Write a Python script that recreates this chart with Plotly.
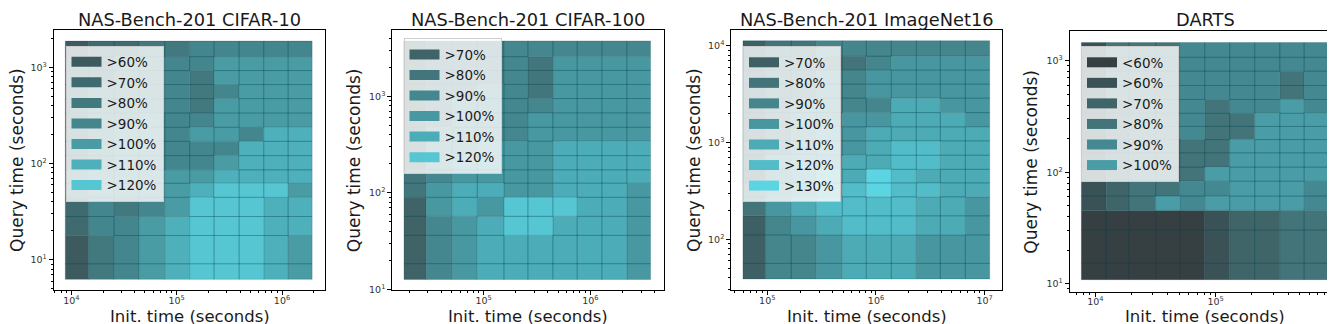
import math
import plotly.graph_objects as go

# ---------------- data ----------------
titles = ["NAS-Bench-201 CIFAR-10", "NAS-Bench-201 CIFAR-100",
          "NAS-Bench-201 ImageNet16", "DARTS"]
x_title = "Init. time (seconds)"
y_title = "Query time (seconds)"

# Panel 1: NAS-Bench-201 CIFAR-10
c10_init_edges = [8770, 14620, 25470, 43990, 77100, 133000, 226500, 391500, 671000, 1143000, 1932000]
c10_query_edges = [1871, 1288, 925, 662, 473, 335, 238, 170, 121, 86.1, 62.4, 44.6, 28.2, 17.9, 9.1, 6.27]
c10_ticks = [1e4, 1e5, 1e6]
c10_yticks = [1e1, 1e2, 1e3]
c10_labels = [">60%", ">70%", ">80%", ">90%", ">100%", ">110%", ">120%"]
c10_colors = ["#3d5a5e", "#3f6a70", "#42797f", "#44868d", "#4a9ca4", "#4eb0ba", "#56c6d2"]
c10_levels = [
    [0, 1, 1, 2, 2, 3, 3, 3, 3, 3],
    [1, 1, 2, 2, 3, 3, 4, 4, 4, 4],
    [1, 1, 2, 2, 3, 2, 4, 4, 4, 4],
    [1, 2, 2, 2, 3, 2, 3, 4, 4, 4],
    [1, 2, 2, 2, 3, 2, 4, 4, 4, 4],
    [1, 2, 2, 3, 3, 3, 4, 4, 4, 4],
    [1, 2, 3, 3, 3, 4, 4, 3, 5, 5],
    [1, 2, 3, 3, 3, 3, 3, 5, 5, 5],
    [1, 2, 3, 3, 3, 3, 4, 5, 5, 5],
    [2, 3, 3, 3, 4, 4, 5, 5, 5, 5],
    [2, 3, 3, 3, 4, 5, 6, 6, 6, 4],
    [1, 3, 2, 3, 4, 6, 6, 6, 5, 5],
    [1, 3, 3, 4, 5, 6, 6, 6, 5, 5],
    [0, 2, 3, 4, 5, 6, 6, 6, 5, 4],
    [0, 2, 3, 4, 5, 6, 6, 6, 5, 4],
]

# Panel 2: NAS-Bench-201 CIFAR-100
c100_init_edges = [17900, 28970, 50780, 87070, 154900, 260000, 445800, 753000, 1285000, 2204000, 3673000]
c100_query_edges = [3733, 2570, 1849, 1324, 947, 672, 477, 342, 243, 173, 126, 89.9, 57.1, 36.3, 18.5, 12.7]
c100_ticks = [1e5, 1e6]
c100_yticks = [1e1, 1e2, 1e3]
c100_labels = [">70%", ">80%", ">90%", ">100%", ">110%", ">120%"]
c100_colors = ["#3f6367", "#42767c", "#45878f", "#4898a1", "#4cadb8", "#56c6d2"]
c100_levels = [
    [0, 1, 1, 1, 2, 2, 2, 2, 2, 2],
    [0, 1, 1, 1, 2, 1, 3, 3, 3, 3],
    [0, 1, 1, 1, 2, 1, 3, 3, 3, 3],
    [0, 1, 1, 2, 2, 1, 3, 3, 3, 3],
    [0, 1, 2, 2, 2, 2, 3, 3, 3, 3],
    [0, 1, 2, 2, 2, 3, 3, 3, 3, 3],
    [0, 2, 2, 2, 2, 3, 3, 3, 3, 3],
    [0, 2, 2, 3, 3, 3, 4, 4, 4, 4],
    [0, 2, 3, 3, 3, 3, 4, 4, 4, 4],
    [1, 2, 3, 3, 3, 3, 4, 4, 4, 4],
    [1, 3, 4, 4, 3, 3, 4, 4, 4, 3],
    [0, 3, 4, 3, 5, 5, 5, 4, 4, 3],
    [0, 2, 3, 4, 5, 5, 4, 4, 4, 3],
    [0, 2, 3, 4, 4, 4, 4, 4, 4, 3],
    [0, 2, 3, 4, 4, 4, 4, 4, 4, 3],
]

# Panel 3: NAS-Bench-201 ImageNet16
img_init_edges = [59740, 96670, 166300, 282500, 489800, 814300, 1383000, 2349000, 3908000, 6637000, 11120000]
img_query_edges = [11290, 7798, 5610, 4018, 2877, 2042, 1452, 1041, 740, 529, 383, 275, 175, 111, 56.5, 39.0]
img_ticks = [1e5, 1e6, 1e7]
img_yticks = [1e2, 1e3, 1e4]
img_labels = [">70%", ">80%", ">90%", ">100%", ">110%", ">120%", ">130%"]
img_colors = ["#3e5f63", "#427479", "#44868c", "#4897a0", "#4cabb5", "#52bdc9", "#5cd5e3"]
img_levels = [
    [0, 1, 1, 2, 2, 2, 2, 2, 2, 2],
    [0, 1, 1, 1, 1, 2, 3, 3, 3, 3],
    [0, 1, 1, 2, 2, 3, 3, 3, 3, 3],
    [0, 1, 1, 2, 2, 3, 3, 3, 3, 3],
    [0, 1, 2, 2, 2, 2, 4, 4, 3, 3],
    [0, 1, 2, 2, 3, 3, 4, 4, 4, 3],
    [0, 1, 2, 3, 3, 4, 4, 4, 4, 4],
    [0, 1, 2, 3, 3, 4, 5, 5, 4, 4],
    [0, 2, 3, 3, 4, 4, 5, 5, 4, 4],
    [0, 2, 3, 4, 4, 6, 5, 4, 4, 4],
    [1, 2, 3, 4, 5, 6, 5, 5, 4, 4],
    [1, 3, 4, 5, 5, 5, 5, 4, 4, 3],
    [0, 2, 3, 4, 5, 5, 5, 4, 4, 3],
    [0, 2, 2, 3, 4, 4, 4, 3, 3, 3],
    [0, 2, 2, 3, 4, 4, 4, 3, 3, 3],
]

# Panel 4: DARTS
darts_init_edges = [7650, 12330, 19040, 31760, 50310, 81200, 130900, 211200, 341100, 543200, 859000]
darts_query_edges = [1452, 1070, 804, 598, 448, 337, 257, 196, 149, 111, 83, 61.1, 45.5, 30.3, 15.3, 10.9]
darts_ticks = [1e4, 1e5]
darts_yticks = [1e1, 1e2, 1e3]
darts_labels = ["<60%", ">60%", ">70%", ">80%", ">90%", ">100%"]
darts_colors = ["#363f42", "#3a5256", "#3f6569", "#427479", "#448891", "#4a9ca6"]
darts_levels = [
    [1, 3, 3, 3, 4, 4, 4, 4, 4, 4],
    [1, 3, 3, 3, 4, 4, 4, 4, 4, 4],
    [1, 3, 3, 3, 4, 4, 4, 4, 3, 4],
    [1, 3, 3, 3, 4, 4, 4, 4, 3, 4],
    [1, 2, 3, 3, 4, 3, 4, 4, 5, 4],
    [1, 2, 3, 3, 4, 3, 3, 5, 5, 5],
    [1, 2, 3, 3, 4, 3, 3, 5, 5, 5],
    [1, 2, 3, 3, 3, 3, 5, 5, 5, 5],
    [1, 2, 3, 3, 3, 3, 5, 5, 5, 5],
    [1, 2, 3, 3, 3, 5, 5, 5, 5, 5],
    [1, 2, 3, 3, 4, 4, 5, 5, 5, 4],
    [1, 2, 3, 5, 4, 5, 5, 5, 5, 4],
    [0, 0, 0, 0, 0, 1, 2, 2, 3, 3],
    [0, 0, 0, 0, 0, 1, 2, 2, 3, 3],
    [0, 0, 0, 0, 0, 1, 2, 2, 3, 3],
]

panels = [
    (c10_init_edges, c10_query_edges, c10_levels, c10_labels, c10_colors, c10_ticks, c10_yticks),
    (c100_init_edges, c100_query_edges, c100_levels, c100_labels, c100_colors, c100_ticks, c100_yticks),
    (img_init_edges, img_query_edges, img_levels, img_labels, img_colors, img_ticks, img_yticks),
    (darts_init_edges, darts_query_edges, darts_levels, darts_labels, darts_colors, darts_ticks, darts_yticks),
]

# ---------------- layout geometry ----------------
W, H = 1335, 324
x_domains_px = [(45.7, 317.3), (384.3, 656.0), (723.3, 994.3), (1061.7, 1332.7)]
y_domains_px = [(22.7, 286.0), (22.7, 286.0), (22.7, 286.0), (23.3, 287.3)]
x_ranges = [(3.833, 6.411), (4.143, 6.691), (4.669, 7.162), (3.787, 6.039)]
y_ranges = [(0.682, 3.383), (0.99, 3.681), (1.472, 4.159), (0.929, 3.265)]
legend_pos_px = [(57.5, 38.0), (395.5, 30.5), (735.0, 38.5), (1073.0, 38.5)]
ytitle_x_px = [9.5, 346.7, 686.5, 1023.3]

FONT = "DejaVu Sans"
TXT = "#1a1a1a"
fig = go.Figure()


def cell_paths(xe, ye, levels, lvl):
    xs, ys = [], []
    for r, row in enumerate(levels):
        for c, v in enumerate(row):
            if v == lvl:
                x0, x1 = xe[c], xe[c + 1]
                y0, y1 = ye[r], ye[r + 1]
                xs += [x0, x1, x1, x0, x0, None]
                ys += [y0, y0, y1, y1, y0, None]
    return xs, ys


def sup_label(v):
    return "10<sup>%d</sup>" % int(round(math.log10(v)))


for i, (xe, ye, lv, labels, colors, xt, yt) in enumerate(panels):
    k = "" if i == 0 else str(i + 1)
    for lvl, (lab, col) in enumerate(zip(labels, colors)):
        xs, ys = cell_paths(xe, ye, lv, lvl)
        fig.add_trace(go.Scatter(
            x=xs, y=ys, mode="lines", fill="toself", fillcolor=col,
            line=dict(color="rgba(0,70,80,0.22)", width=1),
            showlegend=False, xaxis="x" + k, yaxis="y" + k, hoverinfo="skip",
        ))
    # legend entries
    for lvl, (lab, col) in enumerate(zip(labels, colors)):
        fig.add_trace(go.Scatter(
            x=[None], y=[None], mode="lines", name=lab,
            line=dict(color=col, width=10),
            legend="legend" + k, xaxis="x" + k, yaxis="y" + k,
        ))

layout = dict(
    width=W, height=H, margin=dict(l=0, r=0, t=0, b=0),
    paper_bgcolor="white", plot_bgcolor="white",
    font=dict(family=FONT, color=TXT),
    showlegend=True,
)

annotations = []
for i in range(4):
    k = "" if i == 0 else str(i + 1)
    xt, yt = panels[i][5], panels[i][6]
    xd = [x_domains_px[i][0] / W, x_domains_px[i][1] / W]
    yd = [1 - y_domains_px[i][1] / H, 1 - y_domains_px[i][0] / H]
    common = dict(
        type="log", showline=True, linecolor="black", linewidth=1, mirror=True,
        ticks="outside", ticklen=4, tickwidth=1, tickcolor="black",
        showgrid=False, zeroline=False,
        tickfont=dict(size=9.5, color="#333", family=FONT),
        minor=dict(ticks="outside", ticklen=2, tickcolor="black", tickwidth=0.8,
                   dtick="D1", showgrid=False),
    )
    layout["xaxis" + k] = dict(
        common, domain=xd, range=list(x_ranges[i]), anchor="y" + k,
        tickvals=xt, ticktext=[sup_label(v) for v in xt],
        ticklabelstandoff=-3,
    )
    layout["yaxis" + k] = dict(
        common, domain=yd, range=list(y_ranges[i]), anchor="x" + k,
        tickvals=yt, ticktext=[sup_label(v) for v in yt],
    )
    lx, ly = legend_pos_px[i]
    layout["legend" + k] = dict(
        x=lx / W, y=1 - ly / H, xanchor="left", yanchor="top",
        xref="paper", yref="paper",
        bgcolor="rgba(255,255,255,0.8)", bordercolor="#cccccc", borderwidth=1,
        font=dict(size=13.5, family=FONT, color=TXT),
        tracegroupgap=0,
    )
    cx = (xd[0] + xd[1]) / 2
    annotations.append(dict(
        text=titles[i], x=cx, y=1 - 12 / H, xref="paper", yref="paper",
        xanchor="center", yanchor="middle", showarrow=False,
        font=dict(size=17.8, family=FONT, color=TXT),
    ))
    annotations.append(dict(
        text=x_title, x=cx, y=1 - 312 / H, xref="paper", yref="paper",
        xanchor="center", yanchor="middle", showarrow=False,
        font=dict(size=16.5, family=FONT, color=TXT),
    ))
    annotations.append(dict(
        text=y_title, x=ytitle_x_px[i] / W, y=(yd[0] + yd[1]) / 2, xref="paper", yref="paper",
        xanchor="center", yanchor="middle", showarrow=False, textangle=-90,
        font=dict(size=17, family=FONT, color=TXT),
    ))
layout["annotations"] = annotations

fig.update_layout(**layout)
fig.write_html("out.html")
